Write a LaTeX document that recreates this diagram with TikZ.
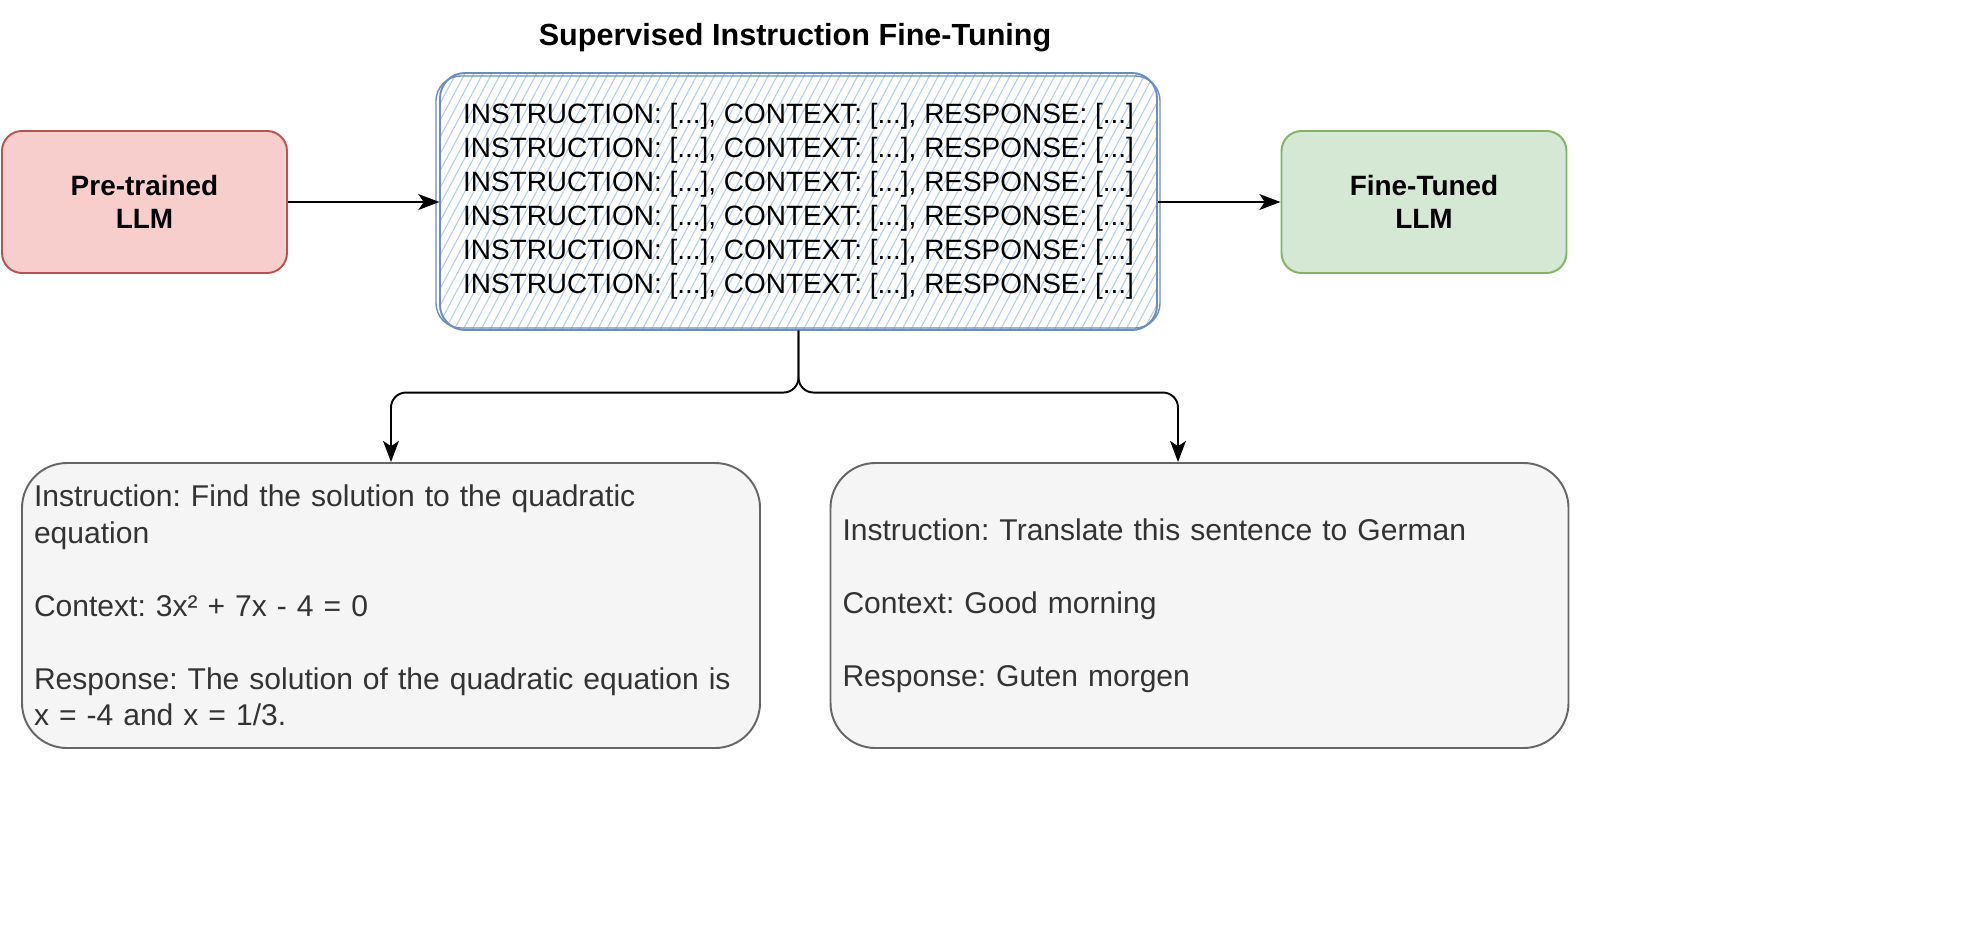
\documentclass[tikz,border=0pt]{standalone}
\usepackage{fontspec}
\setmainfont{Liberation Sans}
\usetikzlibrary{arrows.meta, positioning, patterns.meta}

\definecolor{llmredfill}{HTML}{F8CECC}
\definecolor{llmredline}{HTML}{B85450}
\definecolor{llmgreenfill}{HTML}{D5E8D4}
\definecolor{llmgreenline}{HTML}{82B366}
\definecolor{sftblue}{HTML}{6C8EBF}
\definecolor{sfthatch}{HTML}{B4CCEE}
\definecolor{greyfill}{HTML}{F5F5F5}
\definecolor{greyline}{HTML}{666666}
\definecolor{greytext}{HTML}{333333}

\frenchspacing

\begin{document}
\begin{tikzpicture}[
      llm/.style={draw, rounded corners=0.4cm, line width=1.1pt,
                  minimum width=5.7cm, minimum height=2.84cm, align=center,
                  font=\fontsize{15.9}{18.8}\selectfont\bfseries},
      dataset/.style={draw=sftblue, line width=1.1pt, rounded corners=0.5cm,
                  minimum width=14.34cm, minimum height=5.14cm, align=left,
                  pattern={Lines[angle=62, distance=4.5pt, line width=0.6pt]},
                  pattern color=sfthatch,
                  font=\fontsize{15.9}{19.4}\selectfont},
      sample/.style={draw=greyline, fill=greyfill, text=greytext,
                  rounded corners=0.9cm, line width=1.1pt,
                  text width=14.28cm, inner xsep=0.24cm, minimum height=5.7cm,
                  align=left, font=\fontsize{17.1}{20.8}\selectfont},
      arr/.style={-{Stealth[length=12pt, width=9pt, inset=3pt]}, line width=1.1pt}
    ]
      \useasboundingbox[fill=white] (0,0) rectangle (39.66,-18.96);

      \node[llm, fill=llmredfill, draw=llmredline] (pre) at (2.89,-4.04)
        {Pre-trained\\LLM};
      \node[dataset] (data) at (15.97,-4.03)
        {INSTRUCTION: [...], CONTEXT: [...], RESPONSE: [...]\\
         INSTRUCTION: [...], CONTEXT: [...], RESPONSE: [...]\\
         INSTRUCTION: [...], CONTEXT: [...], RESPONSE: [...]\\
         INSTRUCTION: [...], CONTEXT: [...], RESPONSE: [...]\\
         INSTRUCTION: [...], CONTEXT: [...], RESPONSE: [...]\\
         INSTRUCTION: [...], CONTEXT: [...], RESPONSE: [...]};
      \node[llm, fill=llmgreenfill, draw=llmgreenline] (fine) at (28.48,-4.04)
        {Fine-Tuned\\LLM};
      \node[font=\fontsize{17.4}{20}\selectfont\bfseries] (title) at (15.9,-0.76)
        {Supervised Instruction Fine-Tuning};

      % sketchy second stroke round the data box
      \draw[sftblue, line width=0.8pt, rounded corners=0.5cm]
        ([shift={(-0.07,0.05)}]data.south west) rectangle ([shift={(0.05,-0.07)}]data.north east);

      \node[sample] (math) at (7.82,-12.11)
        {Instruction: Find the solution to the quadratic\\
         equation\\[\baselineskip]
         Context: 3x² + 7x - 4 = 0\\[\baselineskip]
         Response: The solution of the quadratic equation is\\
         x = -4 and x = 1/3.};
      \node[sample] (german) at (23.99,-12.11)
        {Instruction: Translate this sentence to German\\[\baselineskip]
         Context: Good morning\\[\baselineskip]
         Response: Guten morgen};

      \draw[arr] (pre.east) -- (pre.east -| data.west);
      \draw[arr] (data.east |- fine.west) -- (fine.west);
      \draw[arr, rounded corners=0.3cm] (data.south) -- ++(0,-1.24) -| (math.north);
      \draw[arr, rounded corners=0.3cm] (data.south) -- ++(0,-1.24) -| ([xshift=-0.43cm]german.north);
    \end{tikzpicture}
\end{document}
